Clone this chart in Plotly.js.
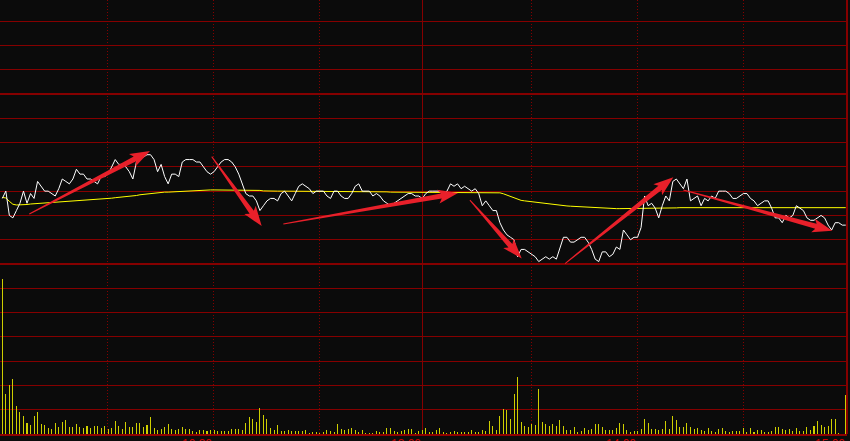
<!DOCTYPE html>
<html><head><meta charset="utf-8">
<script src="https://cdn.plot.ly/plotly-3.0.1.min.js"></script>
<style>
html,body{margin:0;padding:0;background:#0b0b0b;overflow:hidden}
#chart .gridlayer path, #chart .bars path, #chart path.xlines-above, #chart path.xlines-below {shape-rendering: crispEdges;}
</style>
</head><body><div id="chart" style="width:850px;height:441px"></div>
<script>
// Minute-by-minute price (240 minutes)
const price = [
9.57,9.60,9.50,9.49,9.52,9.55,9.60,9.55,9.59,9.57,
9.64,9.62,9.60,9.60,9.59,9.58,9.61,9.65,9.64,9.63,
9.65,9.69,9.67,9.67,9.65,9.65,9.64,9.63,9.66,9.66,
9.67,9.70,9.73,9.71,9.71,9.70,9.68,9.65,9.72,9.74,
9.74,9.75,9.75,9.73,9.68,9.71,9.66,9.63,9.67,9.67,
9.66,9.72,9.73,9.73,9.73,9.72,9.72,9.70,9.68,9.67,
9.68,9.70,9.72,9.73,9.73,9.72,9.70,9.67,9.63,9.59,
9.58,9.58,9.56,9.52,9.54,9.56,9.57,9.57,9.56,9.59,
9.60,9.58,9.56,9.59,9.62,9.63,9.62,9.61,9.59,9.60,
9.60,9.60,9.58,9.57,9.60,9.60,9.58,9.57,9.57,9.59,
9.62,9.63,9.60,9.60,9.60,9.58,9.59,9.58,9.56,9.55,
9.54,9.55,9.56,9.57,9.58,9.59,9.59,9.58,9.58,9.57,
9.59,9.60,9.60,9.60,9.60,9.59,9.60,9.63,9.62,9.63,
9.61,9.62,9.61,9.60,9.61,9.59,9.54,9.56,9.54,9.52,
9.52,9.47,9.44,9.42,9.41,9.40,9.33,9.36,9.36,9.35,
9.34,9.33,9.31,9.32,9.33,9.32,9.33,9.32,9.37,9.41,
9.41,9.39,9.39,9.40,9.41,9.41,9.39,9.36,9.32,9.31,
9.35,9.35,9.33,9.34,9.37,9.36,9.44,9.42,9.40,9.41,
9.41,9.45,9.58,9.54,9.55,9.53,9.49,9.54,9.58,9.56,
9.64,9.65,9.63,9.61,9.65,9.56,9.57,9.58,9.54,9.57,
9.56,9.58,9.57,9.60,9.60,9.60,9.59,9.57,9.57,9.58,
9.59,9.59,9.57,9.56,9.54,9.55,9.56,9.56,9.53,9.49,
9.49,9.47,9.50,9.49,9.50,9.54,9.53,9.52,9.49,9.48,
9.48,9.49,9.50,9.49,9.46,9.44,9.47,9.47,9.46,9.46
];
// Average price line
const avgPrice = [
9.574,9.572,9.558,9.546,9.543,9.543,9.544,9.545,9.547,9.548,
9.550,9.550,9.551,9.552,9.553,9.553,9.554,9.555,9.556,9.557,
9.558,9.559,9.560,9.561,9.562,9.563,9.565,9.566,9.567,9.569,
9.570,9.571,9.573,9.574,9.575,9.577,9.578,9.580,9.582,9.585,
9.587,9.589,9.591,9.593,9.594,9.595,9.596,9.596,9.597,9.597,
9.598,9.599,9.600,9.601,9.602,9.603,9.603,9.604,9.604,9.605,
9.605,9.605,9.605,9.605,9.605,9.605,9.605,9.605,9.605,9.605,
9.605,9.605,9.604,9.603,9.601,9.600,9.600,9.600,9.600,9.600,
9.600,9.600,9.600,9.600,9.600,9.600,9.599,9.599,9.599,9.599,
9.599,9.599,9.599,9.599,9.598,9.598,9.598,9.598,9.598,9.598,
9.598,9.598,9.597,9.597,9.597,9.597,9.597,9.597,9.597,9.597,
9.596,9.596,9.596,9.596,9.596,9.596,9.596,9.596,9.596,9.596,
9.596,9.596,9.596,9.596,9.596,9.596,9.596,9.596,9.596,9.596,
9.596,9.596,9.596,9.596,9.596,9.596,9.595,9.595,9.595,9.595,
9.595,9.593,9.589,9.584,9.578,9.572,9.566,9.562,9.560,9.558,
9.557,9.555,9.552,9.550,9.548,9.546,9.545,9.543,9.541,9.540,
9.539,9.538,9.537,9.536,9.535,9.534,9.533,9.533,9.532,9.531,
9.530,9.529,9.529,9.528,9.528,9.528,9.528,9.528,9.528,9.528,
9.528,9.528,9.528,9.529,9.529,9.529,9.530,9.530,9.530,9.531,
9.531,9.531,9.532,9.532,9.532,9.532,9.532,9.532,9.532,9.532,
9.532,9.532,9.532,9.532,9.532,9.532,9.532,9.532,9.532,9.532,
9.532,9.532,9.532,9.532,9.532,9.532,9.532,9.532,9.532,9.532,
9.532,9.532,9.532,9.532,9.532,9.532,9.532,9.532,9.532,9.532,
9.532,9.532,9.532,9.532,9.532,9.532,9.532,9.532,9.532,9.532
];
// Volume per minute (lots)
const volume = [
6385,1650,2020,2265,1150,905,740,455,370,740,
905,410,370,245,205,455,290,495,575,290,
290,410,290,245,330,245,330,330,245,330,
205,245,535,330,205,495,290,290,455,455,
290,370,700,245,165,205,290,410,205,165,
205,290,205,205,125,80,165,165,125,165,
165,125,125,125,125,205,205,205,165,455,
700,620,495,1070,780,620,245,165,370,125,
125,165,125,125,125,125,165,40,80,80,
40,80,165,125,80,410,205,165,205,245,
165,80,165,40,40,40,125,80,80,245,
245,125,80,125,165,205,205,40,125,165,
245,80,80,165,245,80,40,80,125,80,
80,80,80,165,80,80,165,125,535,330,
165,740,1030,990,620,1650,2350,495,330,290,
410,370,1855,495,410,330,410,330,575,330,
165,165,290,80,125,245,165,205,410,410,
290,165,165,165,245,455,410,165,80,125,
125,205,620,455,205,205,165,205,535,205,
740,575,290,290,455,290,205,245,165,125,
245,125,80,205,245,125,80,125,125,125,
245,80,245,80,165,165,80,80,125,290,
290,205,165,205,125,245,125,125,290,165,
330,535,370,290,330,620,620,40,0,1605
];
const prevClose = 10.00;
const tickLabels = ["10:30", "13:00", "14:00", "15:00"];
const tickIndex = [59.85, 119.07, 179.99, 239.35];
const gridIndex = [29.81, 59.85, 89.88, 149.96, 179.99, 210.03];
const middayIndex = 119.07;

const minuteIdx = price.map((_, i) => i);

// geometry
const W = 850, H = 441;
const M = {l: 0, r: 3, t: 0, b: 7};
const XR = [-0.65, 239.35];
const PR = [9.30, 10.387];
const VR = [0, 7000];
const split = 0.3917;
const PW = W - M.l - M.r, PH = H - M.t - M.b;
const priceH = PH * (1 - split);

const red = '#850000';

function toPx(x, p) {
  return [(x - XR[0]) / (XR[1] - XR[0]) * PW, (PR[1] - p) / (PR[1] - PR[0]) * priceH];
}
function toData(px, py) {
  return [XR[0] + px / PW * (XR[1] - XR[0]), PR[1] - py / priceH * (PR[1] - PR[0])];
}
function arrowPath(a) {
  const [tx, ty] = toPx(a[0], a[1]);
  const [hx, hy] = toPx(a[2], a[3]);
  let dx = hx - tx, dy = hy - ty;
  const len = Math.hypot(dx, dy); dx /= len; dy /= len;
  const nx = -dy, ny = dx;
  const L = 17, HW = 7, BW = 2.6, notch = 3, TW = 0.5;
  const bx = hx - L * dx, by = hy - L * dy;
  const pts = [
    [tx + TW * nx, ty + TW * ny],
    [bx + BW * nx, by + BW * ny],
    [bx - notch * dx + HW * nx, by - notch * dy + HW * ny],
    [hx, hy],
    [bx - notch * dx - HW * nx, by - notch * dy - HW * ny],
    [bx - BW * nx, by - BW * ny],
    [tx - TW * nx, ty - TW * ny]
  ].map(p => toData(p[0], p[1]));
  return 'M' + pts.map(p => p[0].toFixed(4) + ',' + p[1].toFixed(5)).join(' L') + ' Z';
}
// arrows drawn on the chart: [tailIndex, tailPrice, tipIndex, tipPrice]
const arrows = [
  [7.65, 9.506, 41.85, 9.765],
  [59.34, 9.742, 73.5, 9.456],
  [79.63, 9.465, 129.13, 9.592],
  [132.5, 9.563, 147.18, 9.323],
  [159.45, 9.302, 190.14, 9.657],
  [192.97, 9.605, 235.2, 9.437]
];

const traces = [
  {type: 'bar', x: minuteIdx, y: volume, yaxis: 'y2', width: 0.29,
   marker: {color: 'rgba(208,208,0,0.99)', line: {width: 0}}, hoverinfo: 'skip'},
  {type: 'scatter', mode: 'lines', x: minuteIdx, y: avgPrice,
   line: {color: '#ffff00', width: 1}, hoverinfo: 'skip'},
  {type: 'scatter', mode: 'lines', x: minuteIdx, y: price,
   line: {color: '#ffffff', width: 1}, hoverinfo: 'skip'}
];

const shapes = [
  {type: 'line', xref: 'paper', yref: 'y', x0: 0, x1: 1, y0: prevClose, y1: prevClose,
   line: {color: red, width: 2}, layer: 'below'},
  {type: 'line', xref: 'paper', yref: 'paper', x0: 0, x1: 1, y0: split, y1: split,
   line: {color: red, width: 2}, layer: 'below'},
  {type: 'line', xref: 'x', yref: 'paper', x0: middayIndex, x1: middayIndex, y0: 0, y1: 1,
   line: {color: red, width: 1}, layer: 'below'},
  {type: 'line', xref: 'paper', yref: 'paper', x0: 1, x1: 1, y0: 0, y1: 1,
   line: {color: red, width: 1.3}, layer: 'below'}
];
arrows.forEach(a => shapes.push({type: 'path', xref: 'x', yref: 'y', path: arrowPath(a),
  fillcolor: '#e8202a', line: {width: 0}, layer: 'above'}));

const annotations = tickLabels.map((t, k) => ({
  x: tickIndex[k], xref: 'x', y: 0, yref: 'paper', xanchor: 'right', yanchor: 'top',
  yshift: -1, text: t, showarrow: false,
  font: {family: 'Liberation Sans, Arial, sans-serif', size: 12, color: '#d00000'}
}));

const layout = {
  width: W, height: H, margin: M,
  paper_bgcolor: '#0b0b0b', plot_bgcolor: '#0b0b0b',
  showlegend: false, hovermode: false, bargap: 0, dragmode: false,
  xaxis: {range: XR, showticklabels: false, ticks: '', zeroline: false, fixedrange: true,
    tickmode: 'array', tickvals: gridIndex, showgrid: true, gridcolor: red, gridwidth: 1,
    griddash: '1px,2px', showline: true, linecolor: '#900000', linewidth: 2, anchor: 'y2'},
  yaxis: {domain: [split, 1], range: PR, showticklabels: false, ticks: '', zeroline: false,
    fixedrange: true,
    tickmode: 'array', tickvals: [9.4, 9.5, 9.6, 9.7, 9.8, 9.9, 10.1, 10.2, 10.3],
    showgrid: true, gridcolor: red, gridwidth: 1, showline: false},
  yaxis2: {domain: [0, split], range: VR, showticklabels: false, ticks: '', zeroline: false,
    fixedrange: true,
    tickmode: 'array', tickvals: [1000, 2000, 3000, 4000, 5000, 6000],
    showgrid: true, gridcolor: red, gridwidth: 1, showline: false},
  shapes: shapes, annotations: annotations
};

Plotly.newPlot('chart', traces, layout, {displayModeBar: false, responsive: false}).then(() => {
  document.querySelectorAll('#chart .shapelayer path').forEach(p => {
    const d = p.getAttribute('d') || '';
    if (d.indexOf('Z') < 0) p.setAttribute('shape-rendering', 'crispEdges');
  });
});
</script>
</body></html>
